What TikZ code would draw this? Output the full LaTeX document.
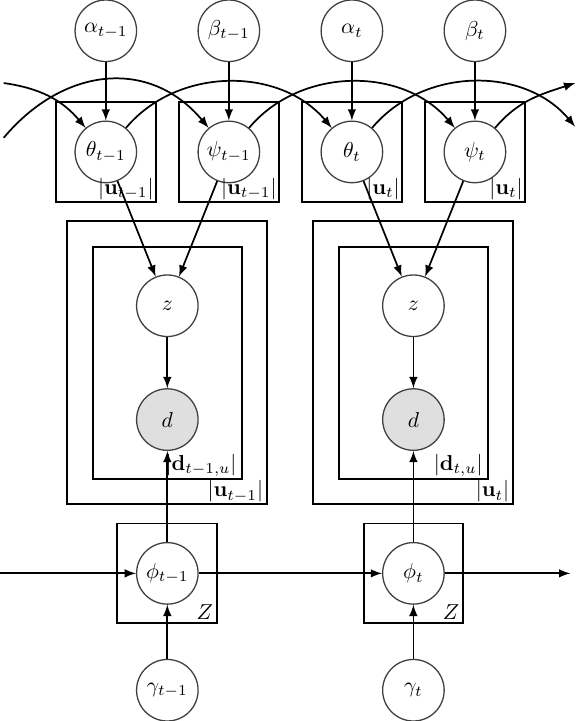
\documentclass[tikz,border=0pt]{standalone}
\usepackage{amssymb, amsmath}
\usetikzlibrary{arrows,fit,positioning}
\tikzset{
  var/.style={circle,draw=black!75,semithick,minimum size=1cm,inner sep=0pt},
  obs/.style={var,fill=gray!25},
  plate/.style={draw,line width=0.9pt,rectangle,inner sep=0.3cm},
  platelabel/.style={anchor=south east,inner sep=1pt},
}
\begin{document}
\begin{tikzpicture}[>=latex,thick]
  \useasboundingbox (-1.72,-9.25) rectangle (7.74,2.47);
  \node[var] (thetap) at (0,0) {$\theta_{t-1}$};
  \node[var] (psip) at (2,0) {$\psi_{t-1}$};
  \node[var] (thetac) at (4,0) {$\theta_t$};
  \node[var] (psic) at (6,0) {$\psi_t$};
  \node[var] (alphap) at (0,1.97) {$\alpha_{t-1}$};
  \node[var] (betap) at (2,1.97) {$\beta_{t-1}$};
  \node[var] (alphac) at (4,1.97) {$\alpha_t$};
  \node[var] (betac) at (6,1.97) {$\beta_t$};
  \node[var] (zp) at (1,-2.5) {$z$};
  \node[obs] (dp) at (1,-4.35) {$d$};
  \node[var] (zc) at (5,-2.5) {$z$};
  \node[obs] (dc) at (5,-4.35) {$d$};
  \node[var] (phip) at (1,-6.85) {$\phi_{t-1}$};
  \node[var] (phic) at (5,-6.85) {$\phi_t$};
  \node[var] (gammap) at (1,-8.75) {$\gamma_{t-1}$};
  \node[var] (gammac) at (5,-8.75) {$\gamma_t$};

  \node[plate,fit=(thetap)] (thetapbox) {};
  \node[platelabel] (thetaplabel) at (thetapbox.south east) {$|\mathbf{u}_{t-1}|$};
  \node[plate,fit=(psip)] (psipbox) {};
  \node[platelabel] (psiplabel) at (psipbox.south east) {$|\mathbf{u}_{t-1}|$};
  \node[plate,fit=(thetac)] (thetacbox) {};
  \node[platelabel] (thetaclabel) at (thetacbox.south east) {$|\mathbf{u}_t|$};
  \node[plate,fit=(psic)] (psicbox) {};
  \node[platelabel] (psiclabel) at (psicbox.south east) {$|\mathbf{u}_t|$};

  \node[plate,fit=(zp)(dp),inner xsep=0.7cm,inner ysep=0.45cm] (docsp) {};
  \node[platelabel,inner xsep=2.5pt] (docsplabel) at (docsp.south east) {$|\mathbf{d}_{t-1,u}|$};
  \node[plate,fit=(docsp),inner sep=0.4cm] (usersp) {};
  \node[platelabel,inner xsep=2pt] (usersplabel) at (usersp.south east) {$|\mathbf{u}_{t-1}|$};
  \node[plate,fit=(zc)(dc),inner xsep=0.7cm,inner ysep=0.45cm] (docsc) {};
  \node[platelabel,inner xsep=2.5pt] (docsclabel) at (docsc.south east) {$|\mathbf{d}_{t,u}|$};
  \node[plate,fit=(docsc),inner sep=0.4cm] (usersc) {};
  \node[platelabel,inner xsep=2pt] (usersclabel) at (usersc.south east) {$|\mathbf{u}_t|$};

  \node[plate,fit=(phip)] (topicp) {};
  \node[platelabel,inner sep=2pt] (topicplabel) at (topicp.south east) {$Z$};
  \node[plate,fit=(phic)] (topicc) {};
  \node[platelabel,inner sep=2pt] (topicclabel) at (topicc.south east) {$Z$};

  \coordinate (thetain) at (-1.66,1.12);
  \coordinate (psiin) at (-1.66,0.23);
  \coordinate (thetaout) at (7.63,0.41);
  \coordinate (psiout) at (7.63,1.12);
  \coordinate (phiin) at (-1.72,-6.85);
  \coordinate (phiout) at (7.55,-6.85);

  \draw[->] (alphap) -- (thetap);
  \draw[->] (betap) -- (psip);
  \draw[->] (alphac) -- (thetac);
  \draw[->] (betac) -- (psic);
  \draw[->] (thetain) to[out=-8,in=130] (thetap);
  \draw[->] (psiin) to[out=50,in=130,looseness=1.15] (psip);
  \draw[->] (thetap) to[out=50,in=130] (thetac);
  \draw[->] (psip) to[out=50,in=130] (psic);
  \draw[->] (thetac) to[out=50,in=130] (thetaout);
  \draw[->] (psic) to[out=50,in=198] (psiout);
  \draw[->] (thetap) -- (zp);
  \draw[->] (psip) -- (zp);
  \draw[->] (thetac) -- (zc);
  \draw[->] (psic) -- (zc);
  \draw[->] (zp) -- (dp);
  \draw[->] (zc) -- (dc);
  \draw[->] (phip) -- (dp);
  \draw[->] (phic) -- (dc);
  \draw[->] (gammap) -- (phip);
  \draw[->] (gammac) -- (phic);
  \draw[->] (phiin) -- (phip);
  \draw[->] (phip) -- (phic);
  \draw[->] (phic) -- (phiout);
\end{tikzpicture}
\end{document}
